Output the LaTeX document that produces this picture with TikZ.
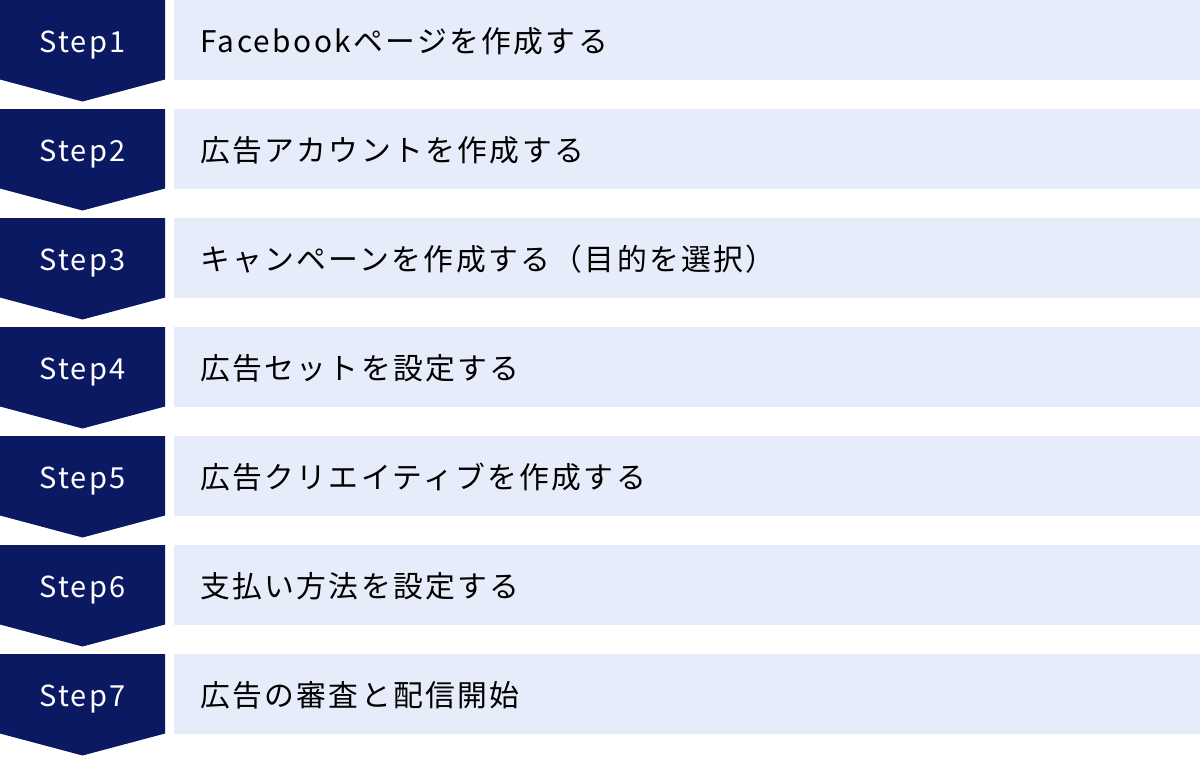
\documentclass[tikz,border=0pt]{standalone}
\usepackage{fontspec}
\setmainfont[LetterSpace=8]{Noto Sans CJK JP}
\usetikzlibrary{positioning}

\definecolor{stepnavy}{HTML}{0B1862}
\definecolor{rowblue}{HTML}{E6ECF9}

\begin{document}
\begin{tikzpicture}[x=1pt, y=1pt]
    \tikzstyle{chevron} = [fill=stepnavy]
    \tikzstyle{steplabel} = [text=white, anchor=base, font=\fontsize{29}{34}\selectfont, inner sep=0pt]
    \tikzstyle{row} = [rectangle, anchor=north west, fill=rowblue, minimum width=1026pt, minimum height=79.5pt, text width=974pt, text height=52.5pt, text depth=27pt, inner xsep=26pt, inner ysep=0pt, align=left, font=\fontsize{29.8}{34}\selectfont]

    \useasboundingbox (0,0) rectangle (1200,-756);

    % Step chevrons
    \fill [chevron] (0,0) -- (165,0) -- (165,-79.5) -- (82.5,-101.5) -- (0,-79.5) -- cycle;
    \fill [chevron] (0,-109) -- (165,-109) -- (165,-188.5) -- (82.5,-210.5) -- (0,-188.5) -- cycle;
    \fill [chevron] (0,-218) -- (165,-218) -- (165,-297.5) -- (82.5,-319.5) -- (0,-297.5) -- cycle;
    \fill [chevron] (0,-327) -- (165,-327) -- (165,-406.5) -- (82.5,-428.5) -- (0,-406.5) -- cycle;
    \fill [chevron] (0,-436) -- (165,-436) -- (165,-515.5) -- (82.5,-537.5) -- (0,-515.5) -- cycle;
    \fill [chevron] (0,-545) -- (165,-545) -- (165,-624.5) -- (82.5,-646.5) -- (0,-624.5) -- cycle;
    \fill [chevron] (0,-654) -- (165,-654) -- (165,-733.5) -- (82.5,-755.5) -- (0,-733.5) -- cycle;

    \node [steplabel] (step1) at (82.5,-52.5) {Step1};
    \node [steplabel] (step2) at (82.5,-161.5) {Step2};
    \node [steplabel] (step3) at (82.5,-270.5) {Step3};
    \node [steplabel] (step4) at (82.5,-379.5) {Step4};
    \node [steplabel] (step5) at (82.5,-488.5) {Step5};
    \node [steplabel] (step6) at (82.5,-597.5) {Step6};
    \node [steplabel] (step7) at (82.5,-706.5) {Step7};

    % Task rows
    \node [row] (page) at (174,0) {Facebookページを作成する};
    \node [row] (account) at (174,-109) {広告アカウントを作成する};
    \node [row] (campaign) at (174,-218) {キャンペーンを作成する（目的を選択）};
    \node [row] (adset) at (174,-327) {広告セットを設定する};
    \node [row] (creative) at (174,-436) {広告クリエイティブを作成する};
    \node [row] (payment) at (174,-545) {支払い方法を設定する};
    \node [row] (review) at (174,-654) {広告の審査と配信開始};
\end{tikzpicture}
\end{document}
